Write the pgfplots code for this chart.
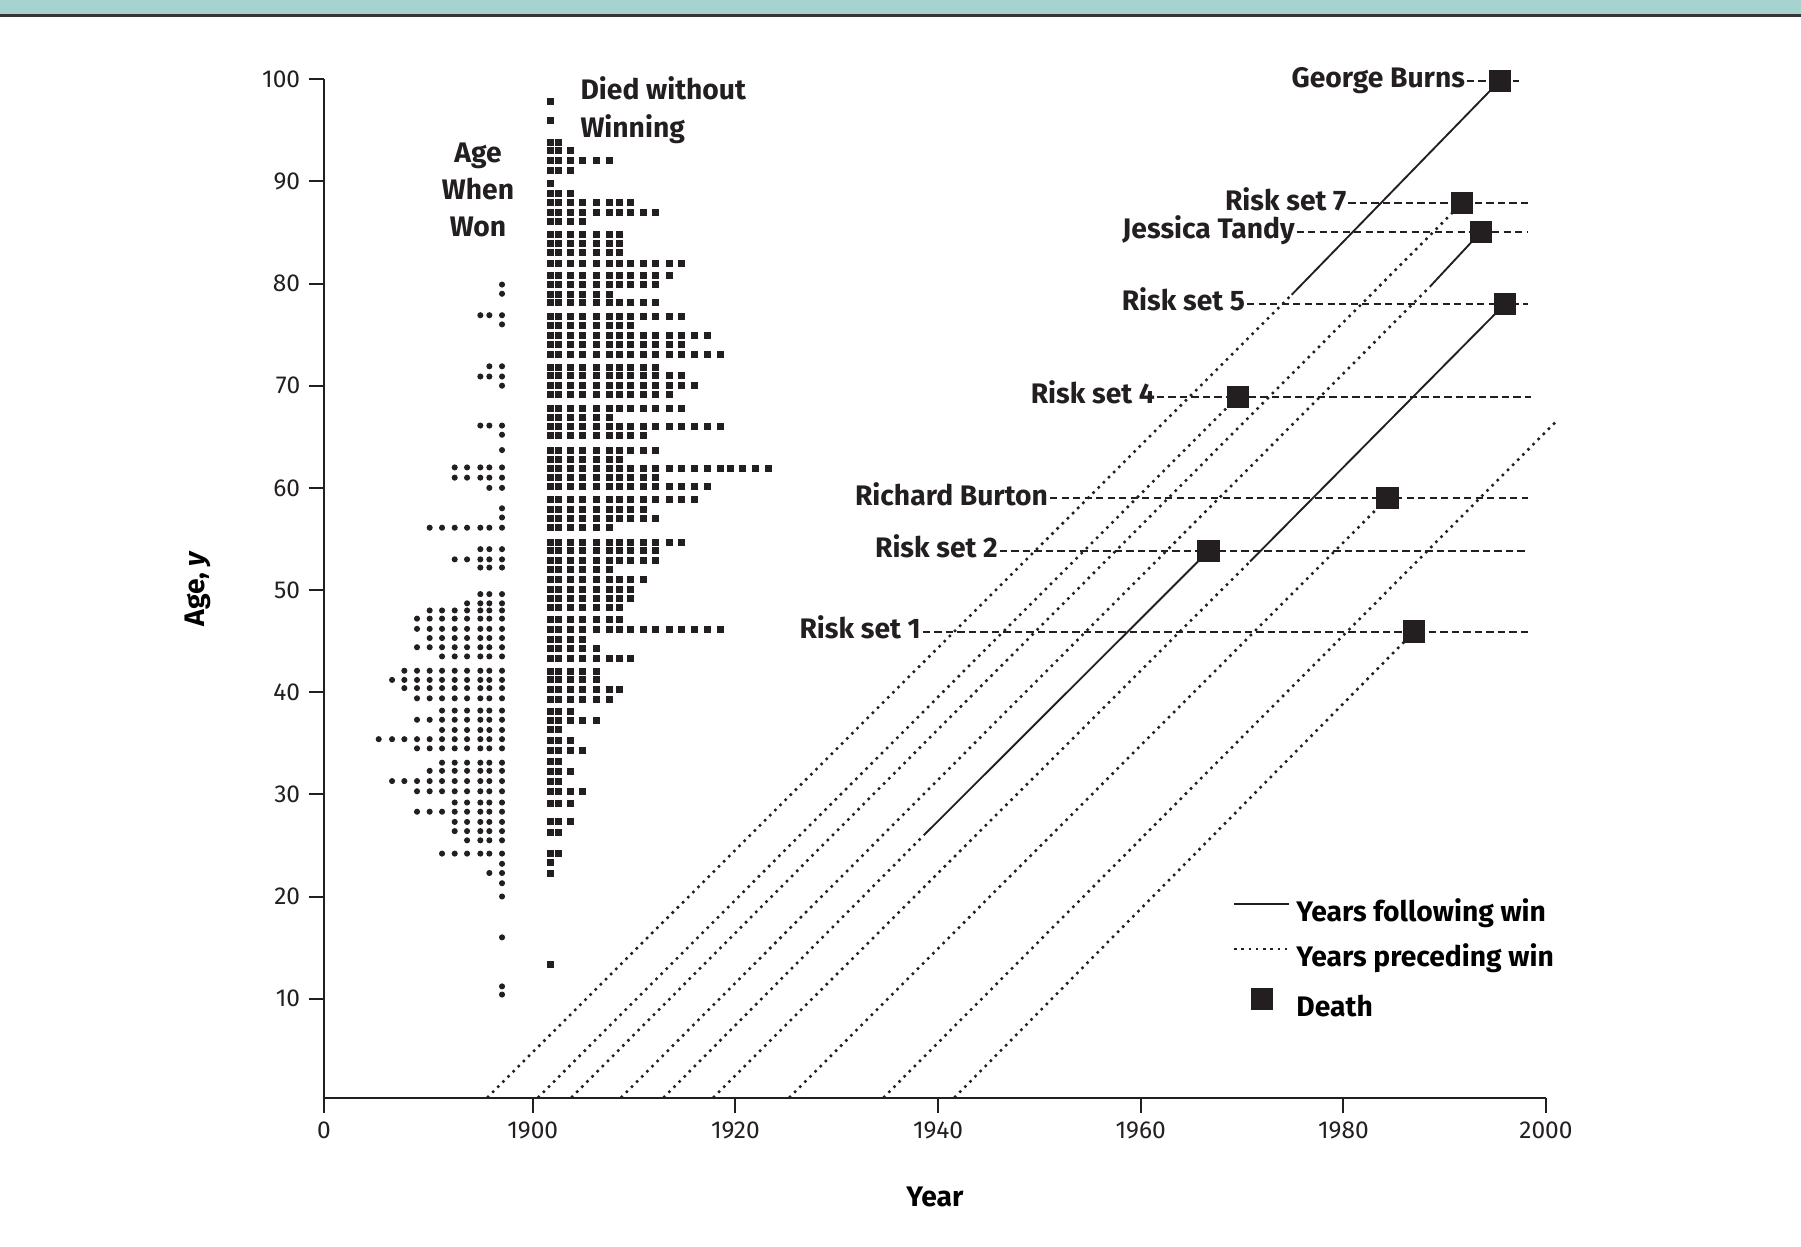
\documentclass[border=0pt]{standalone}
\usepackage{fontspec}
\setmainfont{Fira Sans}
\usepackage{pgfplots}
\pgfplotsset{compat=1.18}
\usetikzlibrary{calc}

\definecolor{ink}{HTML}{231F20}
\definecolor{band}{HTML}{A6D3CF}

\newcommand{\lab}{\fontsize{11.3}{13}\selectfont\bfseries}

\pgfplotsset{
  won/.style={forget plot, only marks, mark=*, mark size=1pt, ink},
  died/.style={forget plot, only marks, mark=square*, mark size=1.2pt, ink},
  before/.style={ink, line width=1pt, dash pattern=on 1pt off 1.9pt},
  after/.style={ink, line width=0.75pt},
  riskline/.style={forget plot, ink, line width=0.75pt, dash pattern=on 2.9pt off 1.7pt},
  death/.style={forget plot, only marks, mark=square*, mark size=4.25pt, ink},
  col/.style={/pgfplots/table/header=false, /pgfplots/table/row sep=\\,
    /pgfplots/table/x expr=#1, /pgfplots/table/y index=0},
  leg line/.style={legend image code/.code={\draw[##1] (0pt,3.7pt) -- (22pt,3.7pt);}},
  leg mark/.style={legend image code/.code={\draw[##1] plot coordinates {(11pt,3.7pt)};}},
}

\begin{document}
\begin{tikzpicture}
\begin{axis}[
  scale only axis,
  width=488.8pt, height=407.4pt,
  xmin=1879.4, xmax=2000,
  ymin=0.3, ymax=100,
  clip=false,
  axis x line=bottom, axis y line=left,
  axis line style={-, line width=0.8pt, ink},
  tick style={line width=0.8pt, ink},
  tick align=outside,
  major tick length=6pt,
  xtick={1879.4,1900,1920,1940,1960,1980,2000},
  xticklabels={0,1900,1920,1940,1960,1980,2000},
  ytick={10,20,...,100},
  tick label style={font=\fontsize{9.8}{11}\selectfont, text=ink},
  /pgf/number format/assume math mode=true,
  xlabel={Year},
  ylabel={Age, \textit{y}},
  xlabel style={font=\lab, at={(axis description cs:0.5,0)}, anchor=center, yshift=-39.7pt},
  ylabel style={font=\lab, at={(axis description cs:0,0.5)}, anchor=center, rotate=0, yshift=50.5pt},
  legend style={at={(axis cs:1969.1,18.46)}, anchor=north west, yshift=5.3pt,
    draw=none, fill=none, inner sep=0pt, outer sep=0pt, row sep=6.4pt, column sep=2.4pt,
    font=\lab, nodes={inner sep=0pt, text height=9pt, text depth=2.5pt}},
  legend cell align=left,
]

% age when won (dots), one column of the histogram per plot
\addplot[won] table[col=1896.97] {79.9\\79.0\\76.9\\76.0\\71.9\\70.9\\70.0\\66.1\\65.2\\63.7\\62.0\\61.0\\60.0\\58.0\\57.1\\56.1\\54.0\\53.0\\52.2\\49.6\\48.7\\48.0\\47.2\\46.2\\45.3\\44.4\\43.5\\42.1\\41.2\\40.4\\39.4\\38.2\\37.3\\36.3\\35.4\\34.5\\33.1\\32.3\\31.3\\30.3\\29.2\\28.3\\27.3\\26.4\\25.5\\24.2\\23.2\\22.3\\21.3\\20.0\\16.0\\11.2\\10.4\\};
\addplot[won] table[col=1895.72] {76.9\\71.9\\70.9\\66.1\\62.0\\61.0\\60.0\\56.1\\54.0\\53.0\\52.2\\49.6\\48.7\\48.0\\47.2\\46.2\\45.3\\44.4\\43.5\\42.1\\41.2\\40.4\\39.4\\38.2\\37.3\\36.3\\35.4\\34.5\\33.1\\32.3\\31.3\\30.3\\29.2\\28.3\\27.3\\26.4\\25.5\\24.2\\22.3\\};
\addplot[won] table[col=1894.83] {76.9\\70.9\\66.1\\62.0\\61.0\\56.1\\54.0\\53.0\\52.2\\49.6\\48.7\\48.0\\47.2\\46.2\\45.3\\44.4\\43.5\\42.1\\41.2\\40.4\\39.4\\38.2\\37.3\\36.3\\35.4\\34.5\\33.1\\32.3\\31.3\\30.3\\29.2\\28.3\\27.3\\26.4\\25.5\\24.2\\};
\addplot[won] table[col=1893.52] {62.0\\61.0\\56.1\\53.0\\48.7\\48.0\\47.2\\46.2\\45.3\\44.4\\43.5\\42.1\\41.2\\40.4\\39.4\\38.2\\37.3\\36.3\\35.4\\34.5\\33.1\\32.3\\31.3\\30.3\\29.2\\28.3\\27.3\\26.4\\25.5\\24.2\\};
\addplot[won] table[col=1892.30] {62.0\\61.0\\56.1\\53.0\\48.0\\47.2\\46.2\\45.3\\44.4\\43.5\\42.1\\41.2\\40.4\\39.4\\38.2\\37.3\\36.3\\35.4\\34.5\\33.1\\32.3\\31.3\\30.3\\29.2\\28.3\\27.3\\26.4\\24.2\\};
\addplot[won] table[col=1891.05] {56.1\\48.0\\47.2\\46.2\\45.3\\44.4\\43.5\\42.1\\41.2\\40.4\\39.4\\38.2\\37.3\\36.3\\35.4\\34.5\\33.1\\32.3\\31.3\\30.3\\28.3\\24.2\\};
\addplot[won] table[col=1889.83] {56.1\\48.0\\47.2\\46.2\\45.3\\44.4\\42.1\\41.2\\40.4\\39.4\\37.3\\35.4\\34.5\\32.3\\31.3\\30.3\\28.3\\};
\addplot[won] table[col=1888.58] {47.2\\46.2\\44.4\\42.1\\41.2\\40.4\\39.4\\37.3\\35.4\\34.5\\31.3\\30.3\\28.3\\};
\addplot[won] table[col=1887.33] {42.1\\41.2\\40.4\\35.4\\31.3\\};
\addplot[won] table[col=1886.12] {41.2\\35.4\\31.3\\};
\addplot[won] table[col=1884.80] {35.4\\};

% died without winning (squares)
\addplot[died] table[col=1901.71] {97.8\\96.0\\93.8\\93.0\\92.0\\91.1\\89.8\\88.8\\87.9\\87.0\\86.1\\84.8\\83.9\\83.0\\82.0\\80.8\\79.9\\78.9\\78.1\\76.8\\75.9\\74.9\\74.0\\73.1\\71.8\\71.0\\70.0\\69.1\\67.8\\66.9\\66.0\\65.1\\63.7\\62.8\\61.9\\61.0\\60.1\\58.9\\57.9\\57.0\\56.1\\54.7\\53.9\\52.9\\52.0\\51.0\\50.1\\49.2\\48.3\\47.1\\46.1\\45.2\\44.3\\43.3\\42.0\\41.2\\40.3\\39.3\\38.1\\37.2\\36.3\\35.3\\34.3\\33.2\\32.2\\31.3\\30.3\\29.1\\27.3\\26.3\\24.2\\23.3\\22.3\\13.3\\};
\addplot[died] table[col=1902.53] {93.8\\93.0\\92.0\\91.1\\88.8\\87.9\\87.0\\86.1\\84.8\\83.9\\83.0\\82.0\\80.8\\79.9\\78.9\\78.1\\76.8\\75.9\\74.9\\74.0\\73.1\\71.8\\71.0\\70.0\\69.1\\67.8\\66.9\\66.0\\65.1\\63.7\\62.8\\61.9\\61.0\\60.1\\58.9\\57.9\\57.0\\56.1\\54.7\\53.9\\52.9\\52.0\\51.0\\50.1\\49.2\\48.3\\47.1\\46.1\\45.2\\44.3\\43.3\\42.0\\41.2\\40.3\\39.3\\38.1\\37.2\\36.3\\35.3\\34.3\\33.2\\32.2\\31.3\\30.3\\29.1\\27.3\\26.3\\24.2\\};
\addplot[died] table[col=1903.68] {93.0\\92.0\\91.1\\88.8\\87.9\\87.0\\86.1\\84.8\\83.9\\83.0\\82.0\\80.8\\79.9\\78.9\\78.1\\76.8\\75.9\\74.9\\74.0\\73.1\\71.8\\71.0\\70.0\\69.1\\67.8\\66.9\\66.0\\65.1\\63.7\\62.8\\61.9\\61.0\\60.1\\58.9\\57.9\\57.0\\56.1\\54.7\\53.9\\52.9\\52.0\\51.0\\50.1\\49.2\\48.3\\47.1\\46.1\\45.2\\44.3\\43.3\\42.0\\41.2\\40.3\\39.3\\38.1\\37.2\\35.3\\34.3\\32.2\\30.3\\29.1\\27.3\\};
\addplot[died] table[col=1904.93] {92.0\\87.9\\87.0\\86.1\\84.8\\83.9\\83.0\\82.0\\80.8\\79.9\\78.9\\78.1\\76.8\\75.9\\74.9\\74.0\\73.1\\71.8\\71.0\\70.0\\69.1\\67.8\\66.9\\66.0\\65.1\\63.7\\62.8\\61.9\\61.0\\60.1\\58.9\\57.9\\57.0\\56.1\\54.7\\53.9\\52.9\\52.0\\51.0\\50.1\\49.2\\48.3\\47.1\\46.1\\45.2\\44.3\\43.3\\42.0\\41.2\\40.3\\39.3\\37.2\\34.3\\30.3\\};
\addplot[died] table[col=1906.32] {92.0\\87.9\\87.0\\84.8\\83.9\\83.0\\82.0\\80.8\\79.9\\78.9\\78.1\\76.8\\75.9\\74.9\\74.0\\73.1\\71.8\\71.0\\70.0\\69.1\\67.8\\66.9\\66.0\\65.1\\63.7\\62.8\\61.9\\61.0\\60.1\\58.9\\57.9\\57.0\\56.1\\54.7\\53.9\\52.9\\52.0\\51.0\\50.1\\49.2\\48.3\\47.1\\46.1\\44.3\\43.3\\42.0\\41.2\\40.3\\39.3\\37.2\\};
\addplot[died] table[col=1907.53] {92.0\\87.9\\87.0\\84.8\\83.9\\83.0\\82.0\\80.8\\79.9\\78.9\\78.1\\76.8\\75.9\\74.9\\74.0\\73.1\\71.8\\71.0\\70.0\\69.1\\67.8\\66.9\\66.0\\65.1\\63.7\\62.8\\61.9\\61.0\\60.1\\58.9\\57.9\\57.0\\56.1\\54.7\\53.9\\52.9\\52.0\\51.0\\50.1\\49.2\\48.3\\47.1\\46.1\\43.3\\40.3\\39.3\\};
\addplot[died] table[col=1908.55] {87.9\\87.0\\84.8\\83.9\\83.0\\82.0\\80.8\\79.9\\78.1\\76.8\\75.9\\74.9\\74.0\\73.1\\71.8\\71.0\\70.0\\69.1\\67.8\\66.0\\65.1\\63.7\\62.8\\61.9\\61.0\\60.1\\58.9\\57.9\\57.0\\54.7\\53.9\\52.9\\51.0\\50.1\\49.2\\48.3\\47.1\\46.1\\43.3\\40.3\\};
\addplot[died] table[col=1909.67] {87.9\\87.0\\82.0\\80.8\\79.9\\78.1\\76.8\\75.9\\74.9\\74.0\\73.1\\71.8\\71.0\\70.0\\69.1\\67.8\\66.0\\65.1\\63.7\\61.9\\61.0\\60.1\\58.9\\57.9\\57.0\\54.7\\53.9\\52.9\\51.0\\50.1\\49.2\\46.1\\43.3\\};
\addplot[died] table[col=1910.92] {87.0\\82.0\\80.8\\79.9\\78.1\\76.8\\74.9\\74.0\\73.1\\71.8\\71.0\\70.0\\69.1\\67.8\\66.0\\65.1\\63.7\\61.9\\61.0\\60.1\\58.9\\57.9\\57.0\\54.7\\53.9\\52.9\\51.0\\46.1\\};
\addplot[died] table[col=1912.14] {87.0\\82.0\\80.8\\79.9\\78.1\\76.8\\74.9\\74.0\\73.1\\71.8\\71.0\\70.0\\69.1\\67.8\\66.0\\63.7\\61.9\\61.0\\60.1\\58.9\\57.0\\54.7\\53.9\\52.9\\46.1\\};
\addplot[died] table[col=1913.49] {82.0\\80.8\\76.8\\74.9\\74.0\\73.1\\71.0\\70.0\\69.1\\67.8\\66.0\\61.9\\60.1\\58.9\\54.7\\46.1\\};
\addplot[died] table[col=1914.64] {82.0\\76.8\\74.9\\74.0\\73.1\\71.0\\70.0\\67.8\\66.0\\61.9\\60.1\\58.9\\54.7\\46.1\\};
\addplot[died] table[col=1915.95] {74.9\\73.1\\70.0\\66.0\\61.9\\60.1\\58.9\\46.1\\};
\addplot[died] table[col=1917.27] {74.9\\73.1\\66.0\\61.9\\60.1\\46.1\\};
\addplot[died] table[col=1918.49] {73.1\\66.0\\61.9\\46.1\\};
\addplot[died] table[col=1919.54] {61.9\\};
\addplot[died] table[col=1920.69] {61.9\\};
\addplot[died] table[col=1921.94] {61.9\\};
\addplot[died] table[col=1923.26] {61.9\\};

% life lines: dotted before the win, solid after it
\addplot[before, forget plot] coordinates {(1895.5,0.3) (1974.9,78.9)};
\addplot[after, forget plot] coordinates {(1974.9,78.9) (1995.45,99.86)};
\addplot[before, forget plot] coordinates {(1900.5,0.3) (1969.6,68.93)};
\addplot[before, forget plot] coordinates {(1903.8,0.3) (1991.7,87.86)};
\addplot[before, forget plot] coordinates {(1908.7,0.3) (1988.55,79.7)};
\addplot[after, forget plot] coordinates {(1988.55,79.7) (1993.6,85.08)};
\addplot[before, forget plot] coordinates {(1912.9,0.3) (1938.6,26.0)};
\addplot[after, forget plot] coordinates {(1938.6,26.0) (1966.7,53.82)};
\addplot[before, forget plot] coordinates {(1917.8,0.3) (1970.8,52.8)};
\addplot[after, forget plot] coordinates {(1970.8,52.8) (1995.95,78.0)};
\addplot[before, forget plot] coordinates {(1925.3,0.3) (1984.35,58.98)};
\addplot[before, forget plot] coordinates {(1934.6,0.3) (2001.2,66.7)};
\addplot[before, forget plot] coordinates {(1941.6,0.3) (1987.0,45.93)};

% risk sets
\addplot[riskline] coordinates {(1992.2,99.86) (1997.3,99.86)};
\addplot[riskline] coordinates {(1980.5,87.86) (1998.2,87.86)};
\addplot[riskline] coordinates {(1975.4,85.08) (1998.2,85.08)};
\addplot[riskline] coordinates {(1970.5,78.0) (1998.2,78.0)};
\addplot[riskline] coordinates {(1961.6,68.93) (1998.5,68.93)};
\addplot[riskline] coordinates {(1951.05,58.98) (1998.2,58.98)};
\addplot[riskline] coordinates {(1946.1,53.82) (1998.2,53.82)};
\addplot[riskline] coordinates {(1938.5,45.93) (1998.3,45.93)};

\addplot[death] coordinates {(1995.45,99.86) (1991.7,87.86) (1993.6,85.08) (1995.95,78.0)
  (1969.6,68.93) (1984.35,58.98) (1966.7,53.82) (1987.0,45.93)};

\begin{scope}[font=\lab, text=ink]
\node[anchor=base east, inner sep=0.6pt, yshift=-2.7pt] at (axis cs:1992.2,99.86) {George Burns};
\node[anchor=base east, inner sep=0.6pt, yshift=-2.7pt] at (axis cs:1980.5,87.86) {Risk set 7};
\node[anchor=base east, inner sep=0.6pt, yshift=-2.7pt] at (axis cs:1975.4,85.08) {Jessica Tandy};
\node[anchor=base east, inner sep=0.6pt, yshift=-2.7pt] at (axis cs:1970.5,78.0) {Risk set 5};
\node[anchor=base east, inner sep=0.6pt, yshift=-2.7pt] at (axis cs:1961.6,68.93) {Risk set 4};
\node[anchor=base east, inner sep=0.6pt, yshift=-2.7pt] at (axis cs:1951.05,58.98) {Richard Burton};
\node[anchor=base east, inner sep=0.6pt, yshift=-2.7pt] at (axis cs:1946.1,53.82) {Risk set 2};
\node[anchor=base east, inner sep=0.6pt, yshift=-2.7pt] at (axis cs:1938.5,45.93) {Risk set 1};
\node[anchor=base west, inner sep=0pt] at (axis cs:1904.67,97.97) {Died without};
\node[anchor=base west, inner sep=0pt] at (axis cs:1904.67,94.28) {Winning};
\node[anchor=base, inner sep=0pt] at (axis cs:1894.6,91.87) {Age};
\node[anchor=base, inner sep=0pt] at (axis cs:1894.6,88.25) {When};
\node[anchor=base, inner sep=0pt] at (axis cs:1894.6,84.59) {Won};
\end{scope}

\addlegendimage{after, leg line}
\addlegendentry{Years following win}
\addlegendimage{before, leg line}
\addlegendentry{Years preceding win}
\addlegendimage{only marks, mark=square*, mark size=4.25pt, ink, leg mark}
\addlegendentry{Death}

\coordinate (SW) at (rel axis cs:0,0);
\coordinate (NE) at (rel axis cs:1,1);
\end{axis}
\pgfresetboundingbox
\path[use as bounding box] ($(SW)+(-129.6pt,-59.3pt)$) rectangle ($(NE)+(102pt,31.7pt)$);
\fill[band] ($(SW|-NE)+(-129.6pt,31.7pt)$) rectangle ($(NE)+(102pt,25.9pt)$);
\fill[ink!90] ($(SW|-NE)+(-129.6pt,25.9pt)$) rectangle ($(NE)+(102pt,24.9pt)$);
\end{tikzpicture}
\end{document}
